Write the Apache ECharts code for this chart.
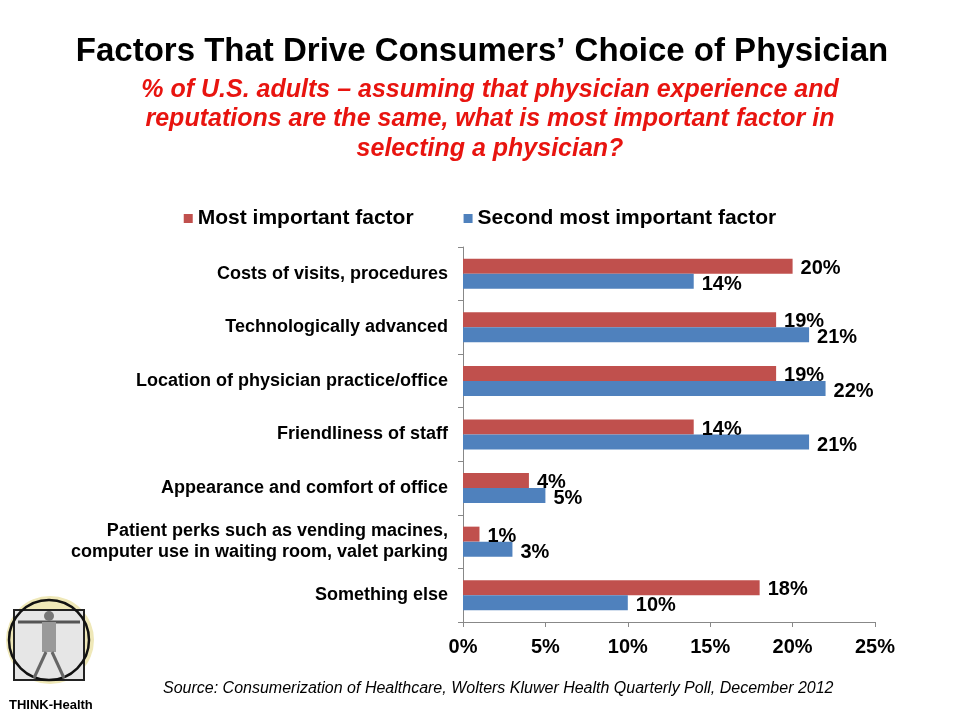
<!DOCTYPE html>
<html>
<head>
<meta charset="utf-8">
<script src="https://cdn.jsdelivr.net/npm/echarts@6/dist/echarts.min.js"></script>
<style>
  html, body { margin: 0; padding: 0; background: #fff; }
  #chart { width: 960px; height: 720px; }
</style>
</head>
<body>
<div id="chart"></div>
<script>
var categories = [
  'Costs of visits, procedures',
  'Technologically advanced',
  'Location of physician practice/office',
  'Friendliness of staff',
  'Appearance and comfort of office',
  'Patient perks such as vending macines,\ncomputer use in waiting room, valet parking',
  'Something else'
];
var seriesNames = ['Most important factor', 'Second most important factor'];
var mostImportant = [20, 19, 19, 14, 4, 1, 18];
var secondImportant = [14, 21, 22, 21, 5, 3, 10];
var xTicks = [0, 5, 10, 15, 20, 25];

var FONT = '"Liberation Sans", Arial, sans-serif';

var chart = echarts.init(document.getElementById('chart'));

function barLabel(offsetY) {
  return {
    show: true,
    position: 'right',
    distance: 8,
    offset: [0, offsetY],
    formatter: '{c}%',
    color: '#000',
    fontFamily: FONT,
    fontWeight: 'bold',
    fontSize: 20
  };
}

var option = {
  backgroundColor: '#fff',
  animation: false,
  title: [
    {
      text: 'Factors That Drive Consumers\u2019 Choice of Physician',
      left: 477,
      top: 30,
      textAlign: 'center',
      textStyle: { fontFamily: FONT, fontWeight: 'bold', fontSize: 33, color: '#000' }
    },
    {
      text: '% of U.S. adults \u2013 assuming that physician experience and\nreputations are the same, what is most important factor in\nselecting a physician?',
      left: 485,
      top: 70,
      textAlign: 'center',
      textStyle: { fontFamily: FONT, fontWeight: 'bold', fontStyle: 'italic', fontSize: 25, lineHeight: 29.5, color: '#E8140F' }
    }
  ],
  legend: {
    data: seriesNames,
    top: 203,
    left: 'center',
    icon: 'rect',
    itemWidth: 9,
    itemHeight: 9,
    itemGap: 50,
    textStyle: { fontFamily: FONT, fontWeight: 'bold', fontSize: 21, color: '#000' }
  },
  grid: { left: 463, right: 85, top: 247, bottom: 98 },
  xAxis: {
    type: 'value',
    min: 0,
    max: 25,
    interval: 5,
    splitLine: { show: false },
    axisLine: { show: true, lineStyle: { color: '#888' } },
    axisTick: { show: true, length: 5, lineStyle: { color: '#888' } },
    axisLabel: {
      margin: 15,
      formatter: function (v) { return xTicks.indexOf(v) >= 0 ? v + '%' : ''; },
      fontFamily: FONT, fontWeight: 'bold', fontSize: 20, color: '#000'
    }
  },
  yAxis: {
    type: 'category',
    inverse: true,
    data: categories,
    axisLine: { show: true, lineStyle: { color: '#888' } },
    axisTick: { show: true, length: 5, lineStyle: { color: '#888' } },
    axisLabel: {
      margin: 15,
      fontFamily: FONT, fontWeight: 'bold', fontSize: 18, color: '#000',
      lineHeight: 21
    }
  },
  series: [
    {
      name: seriesNames[0],
      type: 'bar',
      data: mostImportant,
      barWidth: 15,
      barGap: '0%',
      itemStyle: { color: '#C0504D' },
      label: barLabel(2)
    },
    {
      name: seriesNames[1],
      type: 'bar',
      data: secondImportant,
      barWidth: 15,
      barGap: '0%',
      itemStyle: { color: '#4F81BD' },
      label: barLabel(3)
    }
  ],
  graphic: [
    {
      type: 'text',
      left: 163,
      top: 681,
      style: {
        text: 'Source: Consumerization of Healthcare, Wolters Kluwer Health Quarterly Poll, December 2012',
        font: 'italic 16px ' + FONT,
        fill: '#000'
      }
    },
    // logo approximation
    {
      type: 'group',
      left: 6,
      top: 596,
      children: [
        { type: 'circle', shape: { cx: 48, cy: 48, r: 44 }, style: { fill: '#EFE8B8', stroke: null } },
        { type: 'rect', shape: { x: 12, y: 18, width: 70, height: 70 }, style: { fill: '#e6e6e6', stroke: '#222', lineWidth: 2 } },
        { type: 'circle', shape: { cx: 47, cy: 48, r: 40 }, style: { fill: 'none', stroke: '#111', lineWidth: 2.5 } },
        { type: 'line', shape: { x1: 16, y1: 30, x2: 78, y2: 30 }, style: { stroke: '#555', lineWidth: 3 } },
        { type: 'circle', shape: { cx: 47, cy: 24, r: 5 }, style: { fill: '#777' } },
        { type: 'rect', shape: { x: 40, y: 30, width: 14, height: 30 }, style: { fill: '#999' } },
        { type: 'line', shape: { x1: 44, y1: 60, x2: 32, y2: 86 }, style: { stroke: '#666', lineWidth: 3 } },
        { type: 'line', shape: { x1: 50, y1: 60, x2: 62, y2: 86 }, style: { stroke: '#666', lineWidth: 3 } }
      ]
    },
    {
      type: 'text',
      left: 9,
      top: 699,
      style: { text: 'THINK-Health', font: 'bold 13px ' + FONT, fill: '#000' }
    }
  ]
};

chart.setOption(option);
</script>
</body>
</html>
